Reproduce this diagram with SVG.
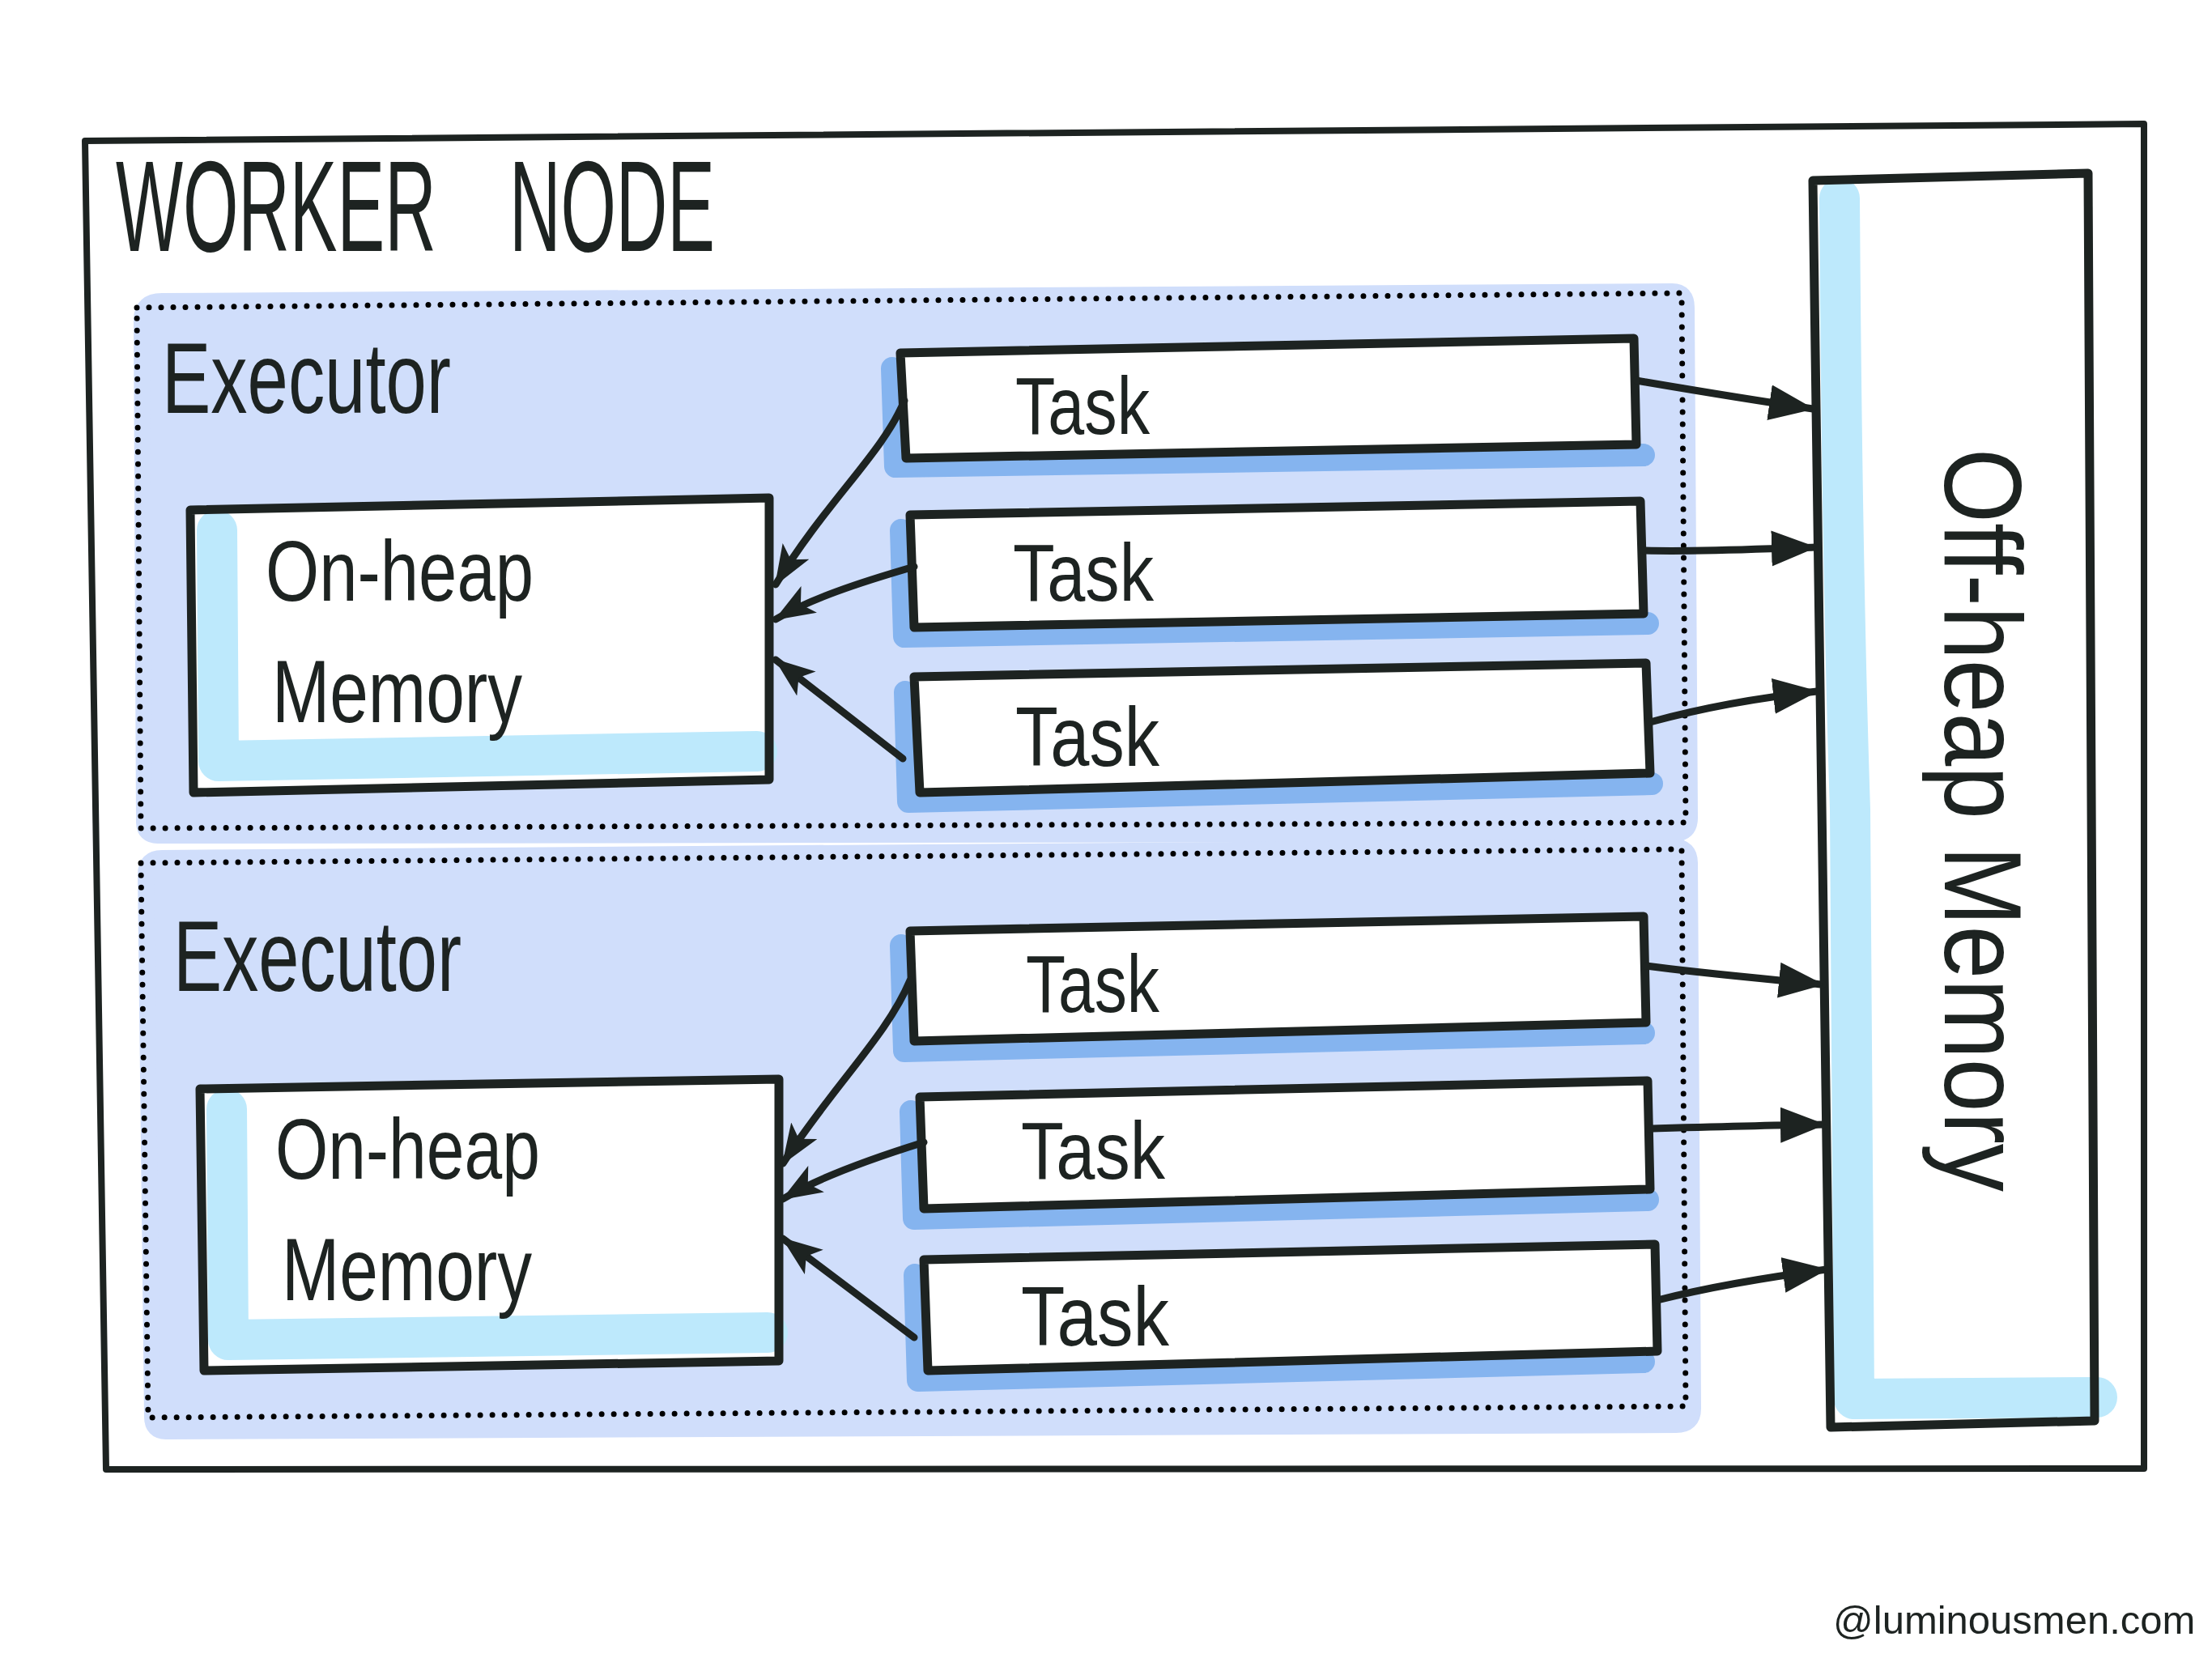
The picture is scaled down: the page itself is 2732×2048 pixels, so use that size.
<svg xmlns="http://www.w3.org/2000/svg" width="2732" height="2048" viewBox="0 0 2732 2048">
<defs>
<style>
.ink{fill:none;stroke:#1d2321;stroke-linejoin:round;stroke-linecap:round}
.box{fill:#ffffff;stroke:#1d2321;stroke-width:11;stroke-linejoin:round;stroke-linecap:round}
.execfill{fill:#d0defb;stroke:#d0defb;stroke-width:20;stroke-linejoin:round}
.dots{fill:none;stroke:#000;stroke-width:7;stroke-dasharray:0 15;stroke-linecap:round}
.shadow{fill:none;stroke:#85b4ef;stroke-width:28;stroke-linecap:round;stroke-linejoin:round}
.cyan{fill:none;stroke:#bde9fc;stroke-width:50;stroke-linecap:round;stroke-linejoin:round}
.hand{font-family:"Liberation Sans","DejaVu Sans",sans-serif;fill:#1d2321}
.arrow{fill:none;stroke:#1d2321;stroke-width:9;stroke-linecap:round}
</style>
<marker id="headFill" markerUnits="userSpaceOnUse" markerWidth="62" markerHeight="50" refX="54" refY="22" orient="auto">
<path d="M0,0 L56,22 L0,44 Z" fill="#1d2321"/>
</marker>
<marker id="headOpen" markerUnits="userSpaceOnUse" markerWidth="56" markerHeight="44" refX="48" refY="19" orient="auto">
<path d="M0,0 L50,19 L0,38 L12,19 Z" fill="#1d2321"/>
</marker>
</defs>
<rect width="2732" height="2048" fill="#ffffff"/>

<g id="worker-node">
<path d="M105,174 L2648,153 L2648,1814 L131,1815 Z" class="ink" stroke-width="8" fill="none"/>
<text class="hand" x="143" y="310" font-size="160" word-spacing="120" textLength="740" lengthAdjust="spacingAndGlyphs">WORKER NODE</text>
</g>

<g id="executor-1">
<path class="execfill" d="M175,395 Q175,372 200,372 L2065,360 Q2083,360 2083,380 L2087,1010 Q2087,1030 2067,1030 L195,1032 Q178,1032 178,1015 Z"/>
<path class="dots" d="M169,380 L2077,362 L2082,1016 L174,1023 Z"/>
<text class="hand" x="200" y="510" font-size="125" textLength="357" lengthAdjust="spacingAndGlyphs">Executor</text>
</g>

<g id="executor-2">
<path class="execfill" d="M180,1080 Q180,1060 200,1060 L2067,1046 Q2087,1046 2087,1066 L2091,1740 Q2091,1760 2070,1760 L205,1768 Q188,1768 188,1750 Z"/>
<path class="dots" d="M174,1066 L2077,1049 L2082,1737 L183,1751 Z"/>
<text class="hand" x="214" y="1224" font-size="125" textLength="356" lengthAdjust="spacingAndGlyphs">Executor</text>
</g>

<g id="onheap-1">
<path d="M235,630 L950,615 L950,963 L239,979 Z" fill="#ffffff"/>
<path class="cyan" d="M268,655 L270,940 L935,928"/>
<path class="box" d="M235,630 L950,615 L950,963 L239,979 Z" style="fill:none"/>
<text class="hand" x="328" y="742" font-size="105" textLength="331" lengthAdjust="spacingAndGlyphs">On-heap</text>
<text class="hand" x="336" y="892" font-size="110" textLength="309" lengthAdjust="spacingAndGlyphs">Memory</text>
</g>

<g id="onheap-2">
<path d="M247,1345 L962,1333 L962,1681 L252,1693 Z" fill="#ffffff"/>
<path class="cyan" d="M280,1370 L282,1655 L948,1646"/>
<path class="box" d="M247,1345 L962,1333 L962,1681 L252,1693 Z" style="fill:none"/>
<text class="hand" x="340" y="1456" font-size="105" textLength="327" lengthAdjust="spacingAndGlyphs">On-heap</text>
<text class="hand" x="348" y="1606" font-size="110" textLength="309" lengthAdjust="spacingAndGlyphs">Memory</text>
</g>

<g id="task-1">
<path class="shadow" d="M1102,455 L1106,576 L2030,562"/>
<path class="box" d="M1112,436 L2018,418 L2021,549 L1119,566 Z"/>
<text class="hand" x="1254" y="536" font-size="100" textLength="166" lengthAdjust="spacingAndGlyphs">Task</text>
</g>
<g id="task-2">
<path class="shadow" d="M1113,655 L1117,786 L2035,770"/>
<path class="box" d="M1124,636 L2026,619 L2030,758 L1129,775 Z"/>
<text class="hand" x="1251" y="742" font-size="100" textLength="174" lengthAdjust="spacingAndGlyphs">Task</text>
</g>
<g id="task-3">
<path class="shadow" d="M1118,855 L1122,990 L2040,968"/>
<path class="box" d="M1129,836 L2033,819 L2038,955 L1136,979 Z"/>
<text class="hand" x="1254" y="946" font-size="104" textLength="178" lengthAdjust="spacingAndGlyphs">Task</text>
</g>
<g id="task-4">
<path class="shadow" d="M1113,1168 L1117,1298 L2030,1276"/>
<path class="box" d="M1124,1150 L2030,1132 L2033,1263 L1129,1286 Z"/>
<text class="hand" x="1267" y="1250" font-size="100" textLength="165" lengthAdjust="spacingAndGlyphs">Task</text>
</g>
<g id="task-5">
<path class="shadow" d="M1125,1373 L1129,1505 L2035,1482"/>
<path class="box" d="M1136,1355 L2035,1335 L2038,1469 L1141,1493 Z"/>
<text class="hand" x="1261" y="1456" font-size="100" textLength="178" lengthAdjust="spacingAndGlyphs">Task</text>
</g>
<g id="task-6">
<path class="shadow" d="M1130,1575 L1134,1705 L2030,1682"/>
<path class="box" d="M1141,1556 L2044,1537 L2047,1669 L1146,1693 Z"/>
<text class="hand" x="1261" y="1662" font-size="104" textLength="183" lengthAdjust="spacingAndGlyphs">Task</text>
</g>

<g id="offheap">
<path d="M2239,223 L2579,214 L2587,1755 L2261,1763 Z" fill="#ffffff"/>
<path class="cyan" d="M2272,245 Q2275,700 2285,1000 L2290,1728 L2590,1726"/>
<path class="box" d="M2239,223 L2579,214 L2587,1755 L2261,1763 Z" style="fill:none"/>
<text class="hand" x="2402" y="1013" font-size="135" text-anchor="middle" textLength="918" lengthAdjust="spacingAndGlyphs" transform="rotate(90 2402 1013)">Off-heap Memory</text>
</g>

<g id="connectors">
<path class="arrow" marker-end="url(#headOpen)" d="M1117,495 C1090,560 1020,620 958,722"/>
<path class="arrow" marker-end="url(#headOpen)" d="M1129,700 C1060,720 1000,740 958,765"/>
<path class="arrow" marker-end="url(#headOpen)" d="M1115,937 L958,815"/>
<path class="arrow" marker-end="url(#headOpen)" d="M1124,1211 C1095,1280 1030,1340 967,1437"/>
<path class="arrow" marker-end="url(#headOpen)" d="M1141,1411 C1080,1430 1010,1455 967,1481"/>
<path class="arrow" marker-end="url(#headOpen)" d="M1129,1652 L967,1530"/>
<path class="arrow" marker-end="url(#headFill)" d="M2021,470 C2080,480 2150,492 2239,505"/>
<path class="arrow" marker-end="url(#headFill)" d="M2030,680 C2100,682 2170,678 2242,676"/>
<path class="arrow" marker-end="url(#headFill)" d="M2038,892 C2100,875 2170,862 2244,854"/>
<path class="arrow" marker-end="url(#headFill)" d="M2033,1193 C2100,1202 2170,1208 2251,1216"/>
<path class="arrow" marker-end="url(#headFill)" d="M2038,1394 C2110,1392 2180,1390 2253,1389"/>
<path class="arrow" marker-end="url(#headFill)" d="M2047,1606 C2110,1590 2180,1578 2256,1568"/>
</g>

<text class="hand" x="2264" y="2018" font-size="49" fill="#000">@luminousmen.com</text>
</svg>
